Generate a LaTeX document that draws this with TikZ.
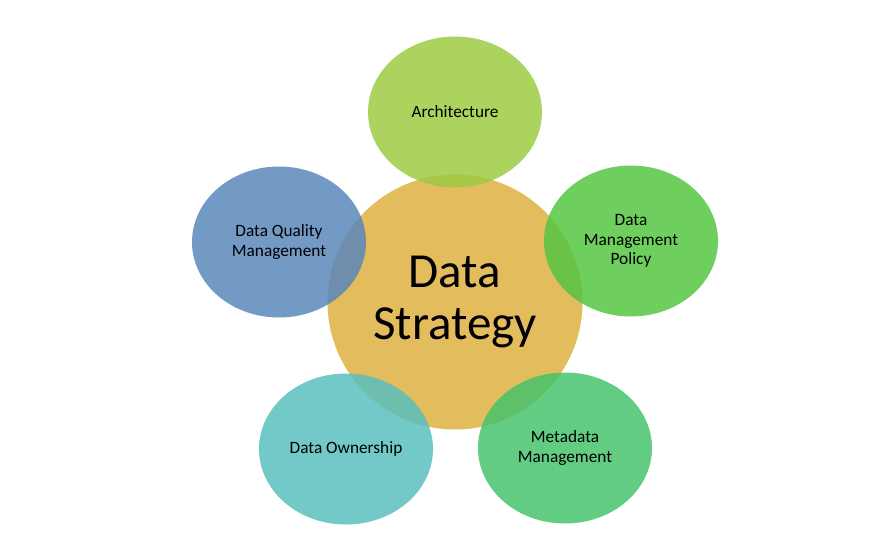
\documentclass[tikz,border=0pt]{standalone}
\usepackage{fontspec}
\setmainfont{Carlito}
\usetikzlibrary{shapes.geometric}
\definecolor{corecol}{HTML}{E3BC5E}
\definecolor{archcol}{HTML}{9CCB42}
\definecolor{policycol}{HTML}{55C542}
\definecolor{metacol}{HTML}{47C36C}
\definecolor{owncol}{HTML}{59BFBD}
\definecolor{qualcol}{HTML}{5B87BB}
\begin{document}
\begin{tikzpicture}[x=1pt, y=-1pt,
	core/.style = {circle, fill=corecol, minimum size=255pt, inner sep=0pt, align=center,
		font=\fontsize{49}{52}\selectfont},
	main/.style = {ellipse, fill opacity=0.85, text opacity=1, minimum width=174pt,
		minimum height=151pt, inner sep=0pt, align=center, font=\fontsize{17.3}{19.5}\selectfont}]
			\useasboundingbox (0,0) rectangle (894,544);
			\node[core] (strategy) at (455,302) {Data\\Strategy};
			\node[main, fill=archcol] (arch) at (455,112) {Architecture};
			\node[main, fill=policycol] (policy) at (631,241) {Data\\Management\\Policy};
			\node[main, fill=metacol] (meta) at (565,448) {Metadata\\Management};
			\node[main, fill=owncol] (owner) at (346,449) {Data Ownership};
			\node[main, fill=qualcol] (quality) at (279,242) {Data Quality\\Management};
		\end{tikzpicture}
\end{document}
